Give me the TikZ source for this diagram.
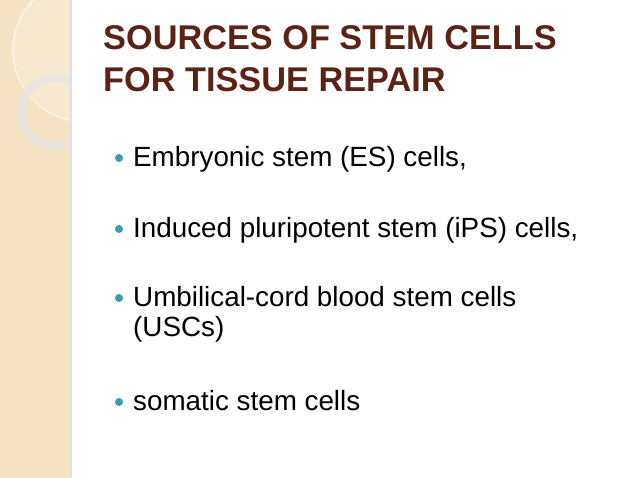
\documentclass[tikz,border=0pt]{standalone}
\usepackage{fontspec}
\setmainfont{Liberation Sans}
\definecolor{band}{HTML}{F3E3C3}
\definecolor{ttl}{HTML}{5C2314}
\definecolor{bul}{HTML}{3A9BB5}
\begin{document}
\begin{tikzpicture}[x=1pt,y=-1pt,
  ttlstyle/.style={anchor=base west,inner sep=0,font=\fontsize{34.3}{36}\selectfont\bfseries,text=ttl},
  item/.style={anchor=base west,inner sep=0,font=\fontsize{27.8}{29}\selectfont,align=left},
  dot/.style={circle,fill=bul,inner sep=0,minimum size=8pt}]
\useasboundingbox (0,0) rectangle (638,478);
\fill[white] (0,0) rectangle (638,478);
\fill[band] (0,0) rectangle (70,478);
\fill[black!12] (70,0) rectangle (72,478);
\begin{scope}
\clip (0,0) rectangle (70,478);
\fill[white,opacity=0.2] (85,50) circle (72);
\draw[white!70!band,line width=1.2pt] (85,50) circle (72);
\draw[black!10!white,opacity=0.8,line width=8pt] (55,112) circle (34);
\end{scope}
\node[ttlstyle] (t1) at (103,50) {SOURCES OF STEM CELLS};
\node[ttlstyle] (t2) at (103,92) {FOR TISSUE REPAIR};
\node[dot] (d1) at (119,158) {};
\node[item] (i1) at (133,167) {Embryonic stem (ES) cells,};
\node[dot] (d2) at (119,229) {};
\node[item] (i2) at (133,238) {Induced pluripotent stem (iPS) cells,};
\node[dot] (d3) at (119,298) {};
\node[item] (i3) at (133,307) {Umbilical-cord blood stem cells};
\node[item] (i3b) at (133,337) {(USCs)};
\node[dot] (d4) at (119,402) {};
\node[item] (i4) at (133,411) {somatic stem cells};
\end{tikzpicture}
\end{document}
